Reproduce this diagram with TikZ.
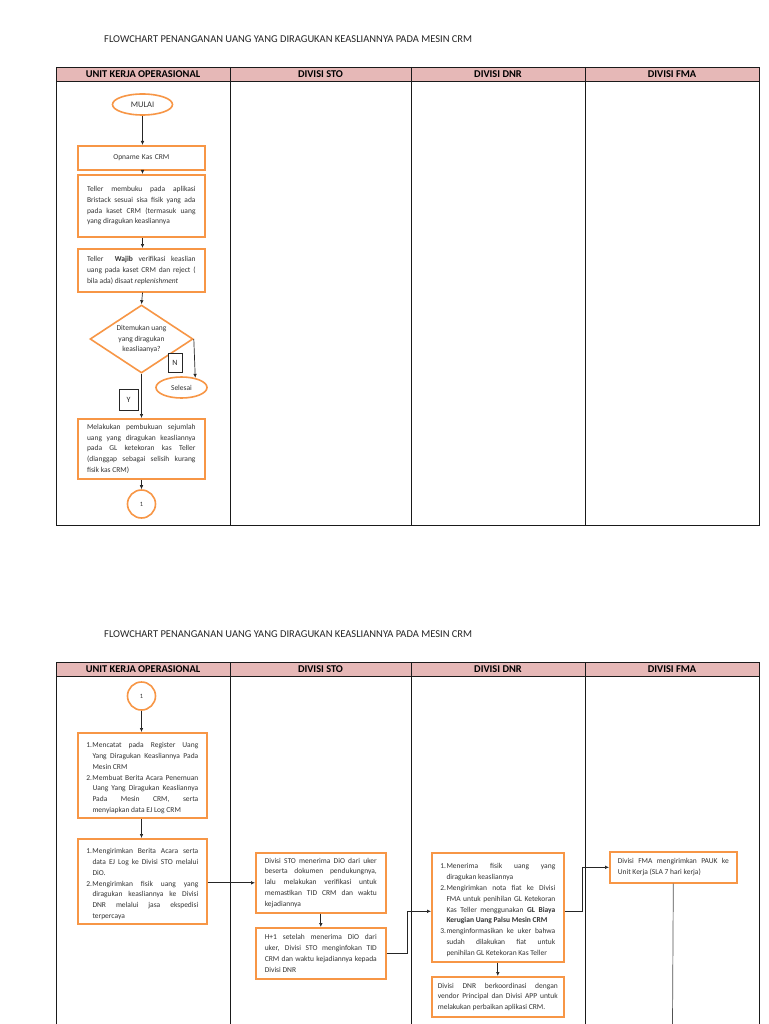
\documentclass[tikz,border=0pt]{standalone}
\usepackage{fontspec}
\setmainfont{Carlito}
\usetikzlibrary{shapes.geometric,arrows.meta}
\definecolor{orng}{HTML}{F79646}
\definecolor{hdr}{HTML}{E6B8B7}
\definecolor{txt}{HTML}{333333}
\definecolor{ln}{HTML}{262626}
\definecolor{gridc}{HTML}{1A1A1A}
\newcommand\bodyf{\fontsize{7.5}{10.8}\selectfont\fontdimen4\font=0pt\hyphenpenalty=10000\exhyphenpenalty=10000}
\newcommand\numitem[1]{\par\noindent\hangindent=6.2pt\hangafter=1\makebox[6.2pt][l]{#1}\ignorespaces}
\tikzset{
  box/.style={draw=orng, line width=1.6pt, fill=white, align=justify, inner xsep=0pt, inner ysep=0pt,
    font=\bodyf, text=txt, anchor=north west},
  term/.style={ellipse, draw=orng, line width=1.6pt, fill=white, inner sep=0pt, font=\bodyf, text=txt},
  conn/.style={circle, draw=orng, line width=1.6pt, fill=white, inner sep=0pt, minimum size=28pt,
    font=\fontsize{6.5}{8}\selectfont, text=txt},
  dec/.style={diamond, draw=orng, line width=1.6pt, fill=white, inner sep=0pt, aspect=1.5,
    minimum width=103pt, minimum height=68pt, align=center, font=\bodyf, text=txt},
  lbl/.style={draw=ln, line width=0.7pt, fill=white, inner sep=0pt, font=\fontsize{8}{9}\selectfont, text=ln},
  arr/.style={draw=ln, line width=0.7pt, -{Latex[length=4pt,width=3.6pt]}},
  plain/.style={draw=ln!80, line width=0.7pt},
  grid/.style={draw=gridc, line width=0.8pt},
  hdrtxt/.style={font=\fontsize{10.4}{12}\selectfont\bfseries, text=black, inner sep=0pt},
  ttl/.style={font=\fontsize{10.5}{12}\selectfont, text=black!85, inner sep=0pt, anchor=west},
}
\begin{document}
\begin{tikzpicture}[x=1pt,y=-1pt]
\useasboundingbox (0,0) rectangle (768,1024);
\fill[white] (0,0) rectangle (768,1024);

% ---------------- page 1 ----------------
\node[ttl] (t1) at (104,39.5) {FLOWCHART PENANGANAN UANG YANG DIRAGUKAN KEASLIANNYA PADA MESIN CRM};
\fill[hdr] (56,67) rectangle (759,81);
\draw[grid] (56,67) rectangle (759,525);
\draw[grid] (56,81) -- (759,81);
\foreach \x in {230,411,585} \draw[grid] (\x,67) -- (\x,525);
\node[hdrtxt] (h1a) at (143,74.5) {UNIT KERJA OPERASIONAL};
\node[hdrtxt] (h1b) at (320.5,74.5) {DIVISI STO};
\node[hdrtxt] (h1c) at (498,74.5) {DIVISI DNR};
\node[hdrtxt] (h1d) at (672,74.5) {DIVISI FMA};

\node[term, minimum width=60pt, minimum height=21pt, font=\fontsize{8.5}{10}\selectfont] (mulai) at (142.5,104.5) {MULAI};
\node[box, minimum width=127pt, minimum height=24pt, text width=108.5pt, align=center] (opn) at (77,145) {Opname Kas CRM};
\node[box, minimum width=127pt, minimum height=62pt, text width=108.5pt] (tm) at (77,174)
  {Teller membuku pada aplikasi Bristack sesuai sisa fisik yang ada pada kaset CRM (termasuk uang yang diragukan keasliannya\par};
\node[box, minimum width=127pt, minimum height=43pt, text width=108.5pt] (tw) at (77,248)
  {Teller\ \ \textbf{Wajib} verifikasi keaslian uang pada kaset CRM dan reject ( bila ada) disaat \textit{replenishment}\par};
\node[dec] (dia) at (141.5,339) {Ditemukan uang\\yang diragukan\\keasliaanya?};
\node[term, minimum width=51pt, minimum height=21pt] (sel) at (181.5,387.5) {Selesai};
\node[lbl, minimum width=14pt, minimum height=19pt] (nlab) at (175,362.5) {N};
\node[lbl, minimum width=19pt, minimum height=21pt] (ylab) at (128.5,399.5) {Y};
\node[box, minimum width=127pt, minimum height=60pt, text width=108.5pt] (mel) at (77,418)
  {Melakukan pembukuan sejumlah uang yang diragukan keasliannya pada GL ketekoran kas Teller (dianggap sebagai selisih kurang fisik kas CRM)\par};
\node[conn] (c1) at (141.5,504) {1};

\draw[arr] (mulai.south) -- (mulai.south |- opn.north);
\draw[arr] (mulai.south |- opn.south) -- (mulai.south |- tm.north);
\draw[arr] (mulai.south |- tm.south) -- (mulai.south |- tw.north);
\draw[arr] (mulai.south |- tw.south) -- (dia.north);
\draw[arr] (dia.east) -- (sel.35);
\draw[arr] (dia.south) -- (dia.south |- mel.north);
\draw[arr] (dia.south |- mel.south) -- (c1.north);

% ---------------- page 2 ----------------
\node[ttl] (t2) at (104,634.5) {FLOWCHART PENANGANAN UANG YANG DIRAGUKAN KEASLIANNYA PADA MESIN CRM};
\fill[hdr] (56,662) rectangle (759,676);
\draw[grid] (56,1024) -- (56,662) -- (759,662) -- (759,1024);
\draw[grid] (56,676) -- (759,676);
\foreach \x in {230,411,585} \draw[grid] (\x,662) -- (\x,1024);
\node[hdrtxt] (h2a) at (143,669.5) {UNIT KERJA OPERASIONAL};
\node[hdrtxt] (h2b) at (320.5,669.5) {DIVISI STO};
\node[hdrtxt] (h2c) at (498,669.5) {DIVISI DNR};
\node[hdrtxt] (h2d) at (672,669.5) {DIVISI FMA};

\node[conn] (c2) at (141.5,696) {1};
\node[box, minimum width=129pt, minimum height=85pt, text width=112pt] (menc) at (77,732)
  {\numitem{1.}Mencatat pada Register Uang\linebreak Yang Diragukan Keasliannya Pada Mesin CRM
   \numitem{2.}Membuat Berita Acara Penemuan Uang Yang Diragukan Keasliannya Pada Mesin CRM, serta menyiapkan data EJ Log CRM\par};
\node[box, minimum width=129pt, minimum height=85pt, text width=112pt] (kirim) at (77,838)
  {\numitem{1.}Mengirimkan Berita Acara serta data EJ Log ke Divisi STO melalui DiO.
   \numitem{2.}Mengirimkan fisik uang yang diragukan keasliannya ke Divisi DNR melalui jasa ekspedisi terpercaya\par};
\node[box, minimum width=130pt, minimum height=60pt, text width=112pt] (sto1) at (255,852)
  {Divisi STO menerima DiO dari uker beserta dokumen pendukungnya, lalu melakukan verifikasi untuk memastikan TID CRM dan waktu kejadiannya\par};
\node[box, minimum width=130pt, minimum height=51pt, text width=112pt] (sto2) at (255,927)
  {H+1 setelah menerima DiO dari uker, Divisi STO menginfokan TID CRM dan waktu kejadiannya kepada Divisi DNR\par};
\node[box, minimum width=132pt, minimum height=109pt, text width=115pt] (dnr1) at (431,852)
  {\numitem{1.}Menerima fisik uang yang diragukan keasliannya
   \numitem{2.}Mengirimkan nota fiat ke Divisi FMA untuk penihilan GL Ketekoran Kas Teller menggunakan \textbf{GL Biaya Kerugian Uang Palsu Mesin CRM}
   \numitem{3.}menginformasikan ke uker bahwa sudah dilakukan fiat untuk penihilan GL Ketekoran Kas Teller\par};
\node[box, minimum width=132pt, minimum height=40pt, text width=120pt] (dnr2) at (431,976)
  {Divisi DNR berkoordinasi dengan vendor Principal dan Divisi APP untuk melakukan perbaikan aplikasi CRM.\par};
\node[box, minimum width=127pt, minimum height=31pt, text width=111pt] (fma) at (609,851)
  {Divisi FMA mengirimkan PAUK ke Unit Kerja (SLA 7 hari kerja)\par};
\coordinate (fmaend) at (672.5,1024);

\draw[arr] (c2.south) -- (c2.south |- menc.north);
\draw[arr] (c2.south |- menc.south) -- (c2.south |- kirim.north);
\draw[arr] (kirim.east |- sto1.west) -- (sto1.west);
\draw[arr] (sto1.south) -- (sto2.north);
\draw[arr] (sto2.east) -- ++(21,0) |- ([yshift=-4pt]dnr1.west);
\draw[arr] (dnr1.south) -- (dnr1.south |- dnr2.north);
\draw[arr] ([yshift=-4pt]dnr1.east) -- ++(18,0) |- (fma.west);
\draw[plain] (fma.south) -- (fmaend);
\end{tikzpicture}
\end{document}
